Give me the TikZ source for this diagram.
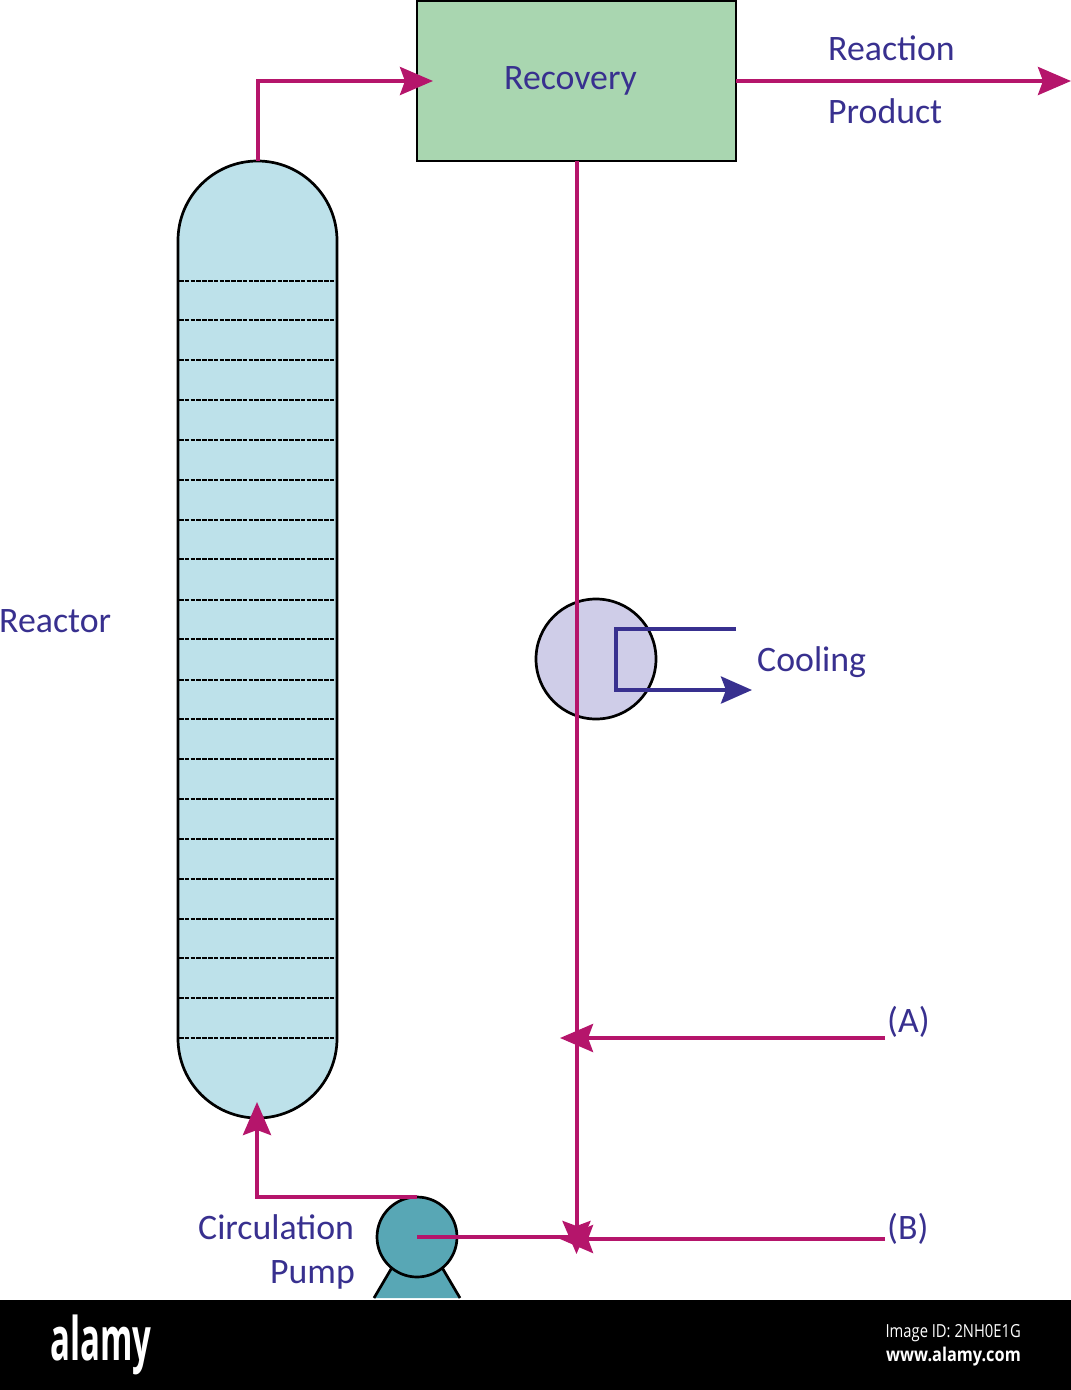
\documentclass[tikz,border=0pt]{standalone}
\usepackage{fontspec}
\usepackage{graphicx}
\setmainfont{Carlito}
\newfontfamily\footfont{Open Sans}
\usetikzlibrary{arrows.meta,calc}
\definecolor{flow}{HTML}{B5156B}
\definecolor{ink}{HTML}{38308F}
\definecolor{vessel}{HTML}{BDE1EA}
\definecolor{recov}{HTML}{A9D6B0}
\definecolor{cool}{HTML}{CFCDE8}
\definecolor{pumpc}{HTML}{58A7B5}
\tikzset{
  x=1pt,y=-1pt,
  unit/.style={draw=black,line width=2.7pt,inner sep=0pt,outer sep=0pt},
  flowline/.style={draw=flow,line width=4pt},
  flowarrow/.style={flowline,-{Stealth[length=33pt,width=28pt,inset=5pt]}},
  coolarrow/.style={draw=ink,line width=4pt,-{Stealth[length=31pt,width=27pt,inset=5pt]}},
  label/.style={text=ink,inner sep=0pt,font=\fontsize{35.8}{40}\selectfont,anchor=base west},
  tray/.style={draw=black,line width=1.1pt,dash pattern=on 4.5pt off 1.3pt},
}
\begin{document}
\begin{tikzpicture}
\useasboundingbox (0,0) rectangle (1071,1390);
% pump base
\fill[pumpc] (417,1225) -- (374,1298) -- (460,1298) -- cycle;
\draw[line width=2.7pt] (417,1225) -- (374,1298) (417,1225) -- (460,1298);
% units
\node[unit,fill=vessel,minimum width=159pt,minimum height=957pt,rounded corners=79.5pt] (reactor) at (257.5,639.5) {};
\node[unit,fill=recov,minimum width=319pt,minimum height=160pt] (recovery) at (576.5,81) {};
\node[unit,fill=cool,circle,minimum size=120pt] (cooler) at (596,659) {};
\node[unit,fill=pumpc,circle,minimum size=80pt] (pump) at (417,1237) {};
% trays
\foreach \ypos in {281,320,360,400,440,480,520,559,600,639,680,719,759,799,839,879,919,958,998,1038}
  \draw[tray] (179,\ypos) -- (336,\ypos);
% free ends
\coordinate (prodEnd) at (1071,81);
\coordinate (recIn) at (433,81);
\coordinate (aStart) at (885,1038);
\coordinate (aEnd) at (560,1038);
\coordinate (bStart) at (885,1239);
\coordinate (bEnd) at (560,1239);
\coordinate (mainEnd) at (576.5,1254);
\coordinate (pumpJoin) at (572,1237);
\coordinate (reactorIn) at (257,1102);
\coordinate (coolIn) at (736,629);
\coordinate (coolTurnA) at (616,629);
\coordinate (coolTurnB) at (616,690);
\coordinate (coolOut) at (752,690);
% connectors
\draw[flowarrow] (reactor.north) |- (recIn);
\draw[flowarrow] (recovery.east) -- (prodEnd);
\draw[flowarrow] (recovery.south) -- (mainEnd);
\draw[flowarrow] (aStart) -- (aEnd);
\draw[flowarrow] (bStart) -- (bEnd);
\draw[flowline] (pump.center) -- (pumpJoin);
\draw[flowarrow] (pump.north) -- (257,1197) -- (reactorIn);
\draw[coolarrow] (coolIn) -- (coolTurnA) -- (coolTurnB) -- (coolOut);
% labels
\node[label] (t1) at (504,89) {Recovery};
\node[label] (t2) at (828,60) {Reaction};
\node[label] (t3) at (828,123) {Product};
\node[label] (t4) at (-1,632.5) {Reactor};
\node[label] (t5) at (757,671) {Cooling};
\node[label] (t6) at (887,1032) {(A)};
\node[label] (t7) at (887,1239) {(B)};
\node[label] (t8) at (198,1239) {Circulation};
\node[label,anchor=base east] (t9) at (355,1283) {Pump};
% footer band
\fill[black] (0,1300) rectangle (1071,1390);
\node[inner sep=0pt,text=white,anchor=base west,font=\footfont\bfseries\fontsize{60}{60}\selectfont] (logo) at (50,1360) {\scalebox{0.55}[1]{alamy}};
\node[inner sep=0pt,text=white,anchor=base east,font=\footfont\fontsize{18}{18}\selectfont] (imgid) at (1021,1337) {\scalebox{0.82}[1]{Image ID: 2NH0E1G}};
\node[inner sep=0pt,text=white,anchor=base east,font=\footfont\bfseries\fontsize{19}{19}\selectfont] (site) at (1021,1361) {\scalebox{0.86}[1]{www.alamy.com}};
\end{tikzpicture}
\end{document}
